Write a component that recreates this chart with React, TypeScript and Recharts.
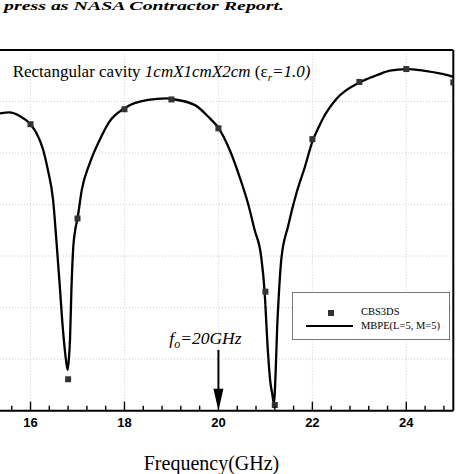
import React from 'react';
import { ComposedChart, Line, Scatter, XAxis, YAxis, ReferenceLine, ReferenceDot, Legend } from 'recharts';

// MBPE(L=5, M=5) curve, frequency in GHz
const lineFreq = [
  15.35, 15.55, 15.77, 16.0, 16.13, 16.27, 16.37, 16.48, 16.55, 16.62, 16.69, 16.74, 16.79,
  16.82, 16.84, 16.87, 16.91, 16.95, 17.0, 17.09, 17.26, 17.47, 17.68, 18.0, 18.5, 18.9, 19.0,
  19.5, 19.82, 20.0, 20.24, 20.45, 20.63, 20.77, 20.91, 20.98, 21.05, 21.1, 21.15, 21.18,
  21.22, 21.25, 21.28, 21.34, 21.48, 21.66, 21.84, 22.0, 22.16, 22.23, 22.52, 23.0, 23.37,
  23.65, 24.0, 24.36, 24.79, 25.0,
];
const lineVal = [
  5.77, 5.79, 5.72, 5.56, 5.38, 5.06, 4.67, 4.09, 3.31, 2.45, 1.57, 1.1, 0.79,
  1.05, 1.37, 2.34, 3.18, 3.5, 3.73, 4.28, 4.8, 5.25, 5.61, 5.87, 6.03, 6.06, 6.05,
  5.93, 5.67, 5.49, 5.06, 4.54, 4.02, 3.51, 2.99, 2.35, 1.2, 0.6, 0.3, 0.14,
  0.8, 1.6, 2.15, 2.95, 3.57, 4.22, 4.73, 5.22, 5.55, 5.68, 6.06, 6.37, 6.51,
  6.6, 6.63, 6.6, 6.53, 6.48,
];

// CBS3DS samples
const markFreq = [16, 16.8, 17, 18, 19, 20, 21, 21.2, 22, 23, 24, 25];
const markVal = [5.56, 0.61, 3.73, 5.85, 6.04, 5.48, 2.31, 0.11, 5.27, 6.38, 6.63, 6.37];

const majorTicks = [16, 18, 20, 22, 24];
const allTicks = [
  15.6, 16, 16.4, 16.8, 17.2, 17.6, 18, 18.4, 18.8, 19.2, 19.6, 20, 20.4, 20.8,
  21.2, 21.6, 22, 22.4, 22.8, 23.2, 23.6, 24, 24.4, 24.8,
];
const gridY = [1, 2, 3, 4, 5, 6];

const lineData = lineFreq.map((f, i) => ({ f, v: lineVal[i] }));
const markData = markFreq.map((f, i) => ({ f, v: markVal[i] }));

const serif = '"Liberation Serif", "Times New Roman", serif';

const FreqTick = (props: any) => {
  const { x, y, payload } = props;
  const major = majorTicks.includes(payload.value);
  return (
    <g>
      <line x1={x} x2={x} y1={y} y2={y - (major ? 9 : 5)} stroke="#000" strokeWidth={1.4} />
      {major && (
        <text x={x} y={y + 16} textAnchor="middle" fontFamily='"Liberation Sans", Arial, sans-serif'
          fontWeight="bold" fontSize={13} fill="#000">
          {payload.value}
        </text>
      )}
    </g>
  );
};

const SquareMark = (props: any) => {
  const { cx, cy } = props;
  return <rect x={cx - 3} y={cy - 3} width={6} height={6} fill="#333" />;
};

const ArrowHead = (props: any) => {
  const { cx, cy } = props;
  return <polygon points={`${cx - 5},${cy - 22} ${cx + 5},${cy - 22} ${cx},${cy}`} fill="#000" />;
};

const LegendBox = () => (
  <div style={{
    position: 'relative', width: 158, height: 48, border: '1px solid #777', background: '#fff',
    fontFamily: serif, fontSize: 10.5, color: '#000', boxSizing: 'border-box',
  }}>
    <div style={{ position: 'absolute', left: 35, top: 17, width: 6, height: 6, background: '#333' }} />
    <div style={{ position: 'absolute', left: 68, top: 13, lineHeight: '12px' }}>CBS3DS</div>
    <div style={{ position: 'absolute', left: 13, top: 32, width: 47, height: 2, background: '#000' }} />
    <div style={{ position: 'absolute', left: 68, top: 27, lineHeight: '12px' }}>MBPE(L=5, M=5)</div>
  </div>
);

const App: React.FC = () => {
  return (
    <div style={{ position: 'absolute', left: 0, top: 0, width: 474, height: 474, background: '#fff', overflow: 'hidden' }}>
      <ComposedChart width={474} height={474} margin={{ top: 50, right: 20.7, bottom: 33.3, left: 0 }}>
        <XAxis
          dataKey="f"
          type="number"
          domain={[15.35, 25]}
          allowDataOverflow
          ticks={allTicks}
          interval={0}
          tickLine={false}
          tickSize={0}
          tickMargin={0}
          height={30}
          axisLine={{ stroke: '#000', strokeWidth: 2 }}
          tick={<FreqTick />}
          label={{
            content: (p: any) => (
              <text x={211.5} y={p.viewBox.y + 59.3} textAnchor="middle" fontFamily={serif} fontSize={20} fill="#000">
                Frequency(GHz)
              </text>
            ),
          }}
        />
        <YAxis type="number" domain={[0, 7]} hide allowDataOverflow />
        {majorTicks.map((t) => (
          <ReferenceLine key={'gx' + t} x={t} stroke="#cfcfcf" strokeDasharray="1 2" />
        ))}
        {gridY.map((t) => (
          <ReferenceLine key={'gy' + t} y={t} stroke="#cfcfcf" strokeDasharray="1 2" />
        ))}
        <ReferenceLine y={7} stroke="#000" strokeWidth={2} />
        <ReferenceLine x={25} stroke="#000" strokeWidth={2} />
        <ReferenceLine segment={[{ x: 20, y: 1.18 }, { x: 20, y: 0.3 }]} stroke="#000" strokeWidth={2} />
        <ReferenceDot x={20} y={0} r={5} shape={<ArrowHead />} />
        <Line data={lineData} dataKey="v" type="monotone" stroke="#000" strokeWidth={2.3} dot={false}
          isAnimationActive={false} name="MBPE(L=5, M=5)" />
        <Scatter data={markData} dataKey="v" shape={<SquareMark />} isAnimationActive={false} name="CBS3DS" />
        <Legend
          layout="vertical"
          align="center"
          verticalAlign="middle"
          content={<LegendBox />}
          wrapperStyle={{ position: 'absolute', left: 292, top: 292, width: 159, height: 49 }}
        />
      </ComposedChart>
      <svg width={474} height={474} style={{ position: 'absolute', left: 0, top: 0, pointerEvents: 'none' }}>
        <text x={4} y={10} fontFamily={serif} fontSize={12} fontWeight="bold" fontStyle="italic" fill="#000"
          textLength={280} lengthAdjust="spacingAndGlyphs">
          press as NASA Contractor Report.
        </text>
        <text x={12.7} y={76.5} fontFamily={serif} fontSize={17} fill="#000">
          Rectangular cavity <tspan fontStyle="italic">1cmX1cmX2cm</tspan> (ε
          <tspan fontStyle="italic" fontSize={11} dy={4}>r</tspan>
          <tspan fontStyle="italic" dy={-4}>=1.0)</tspan>
        </text>
        <text x={169.3} y={344} fontFamily={serif} fontSize={17.5} fontStyle="italic" fill="#000">
          f<tspan fontSize={12} dy={4}>o</tspan><tspan dy={-4}>=20GHz</tspan>
        </text>
      </svg>
    </div>
  );
};

export default App;
